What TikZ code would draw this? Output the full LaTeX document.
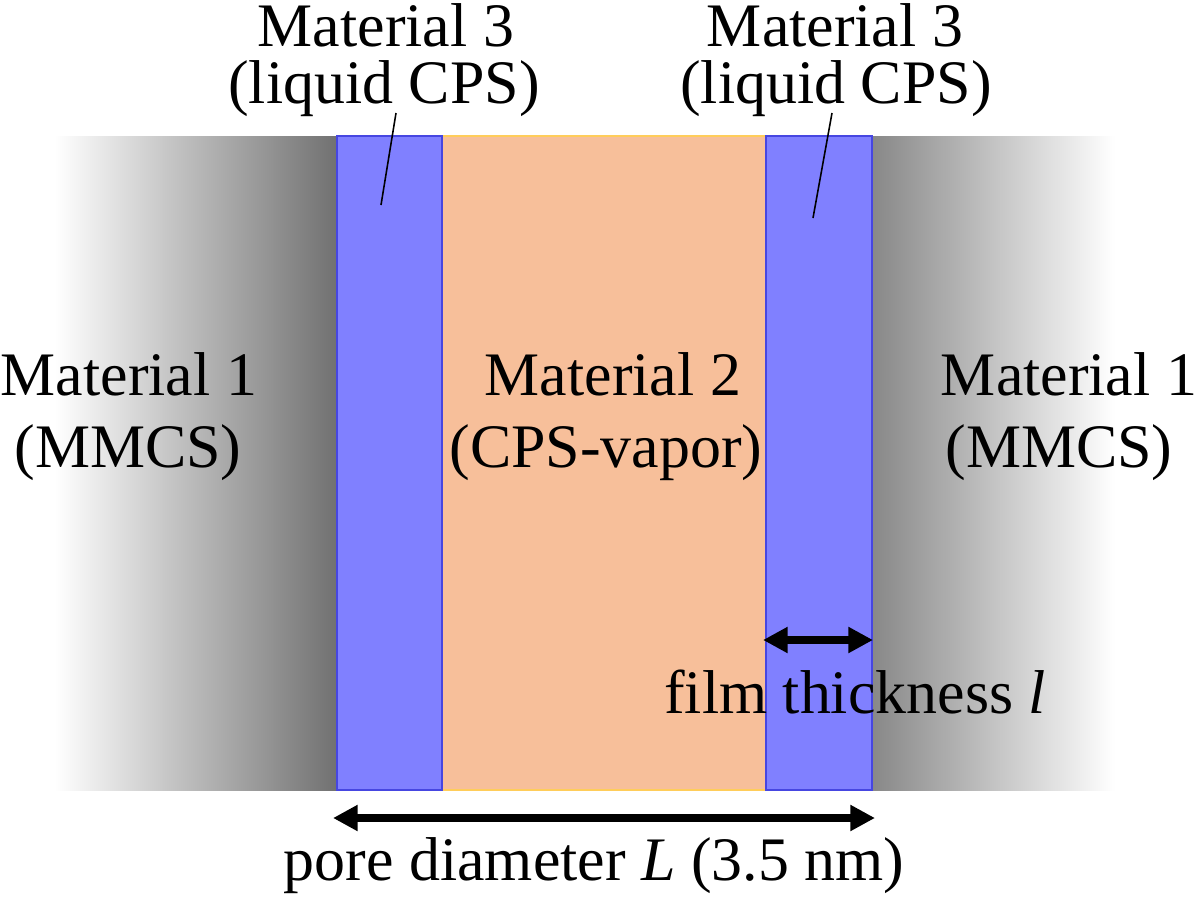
\documentclass[tikz,border=0pt]{standalone}
\usepackage{fontspec}
\setmainfont{Liberation Serif}
\usetikzlibrary{arrows.meta}
\definecolor{bluefill}{RGB}{128,128,255}
\definecolor{blueedge}{RGB}{70,70,225}
\definecolor{orangefill}{RGB}{247,191,154}
\definecolor{yellowedge}{RGB}{255,205,90}
\tikzset{
  lbl/.style={font=\fontsize{17.6}{20}\selectfont, inner sep=0pt, anchor=base},
  film/.style={fill=bluefill, draw=blueedge, line width=0.4pt},
  dimarrow/.style={line width=2pt, {Triangle[length=7pt,width=7pt]}-{Triangle[length=7pt,width=7pt]}, shorten <=0pt, shorten >=0pt},
  leader/.style={line width=0.45pt, black}
}
\begin{document}
\begin{tikzpicture}[x=0.01cm, y=-0.01cm]
\useasboundingbox (0,0) rectangle (1200,900);
% gray matrix
\shade[left color=white, right color={black!56}] (55,136) rectangle (338,790);
\shade[left color={black!47}, right color=white] (871,136) rectangle (1115,790);
% vapor core
\fill[orangefill] (442,136) rectangle (766,790);
\draw[yellowedge, line width=0.5pt] (442,136) -- (766,136);
\draw[yellowedge, line width=0.5pt] (442,790) -- (766,790);
% liquid films
\draw[film] (337,136) rectangle (442,790);
\draw[film] (766,136) rectangle (872,790);
% labels
\node[lbl] (m3la) at (386,47) {Material 3};
\node[lbl] (m3lb) at (384,103) {(liquid CPS)};
\node[lbl] (m3ra) at (835,47) {Material 3};
\node[lbl] (m3rb) at (836,103) {(liquid CPS)};
\node[lbl] (m1la) at (129,395) {Material 1};
\node[lbl] (m1lb) at (128,467) {(MMCS)};
\node[lbl] (m2a) at (613,395) {Material 2};
\node[lbl] (m2b) at (606,467) {(CPS-vapor)};
\node[lbl] (m1ra) at (1069,395) {Material 1};
\node[lbl] (m1rb) at (1059,467) {(MMCS)};
\node[lbl] (filmlbl) at (855,713) {film thickness \textit{l}};
\node[lbl] (porelbl) at (594,880) {pore diameter \textit{L} (3.5 nm)};
% leader lines
\coordinate (ll1) at (396,113);
\coordinate (ll2) at (381,205);
\coordinate (lr1) at (832,113);
\coordinate (lr2) at (813,218);
\draw[leader] (ll1) -- (ll2);
\draw[leader] (lr1) -- (lr2);
% dimension arrows
\coordinate (fa) at (763,640);
\coordinate (fb) at (873,640);
\draw[dimarrow] (fa) -- (fb);
\coordinate (pa) at (333,818);
\coordinate (pb) at (875,818);
\draw[dimarrow] (pa) -- (pb);
\end{tikzpicture}
\end{document}
